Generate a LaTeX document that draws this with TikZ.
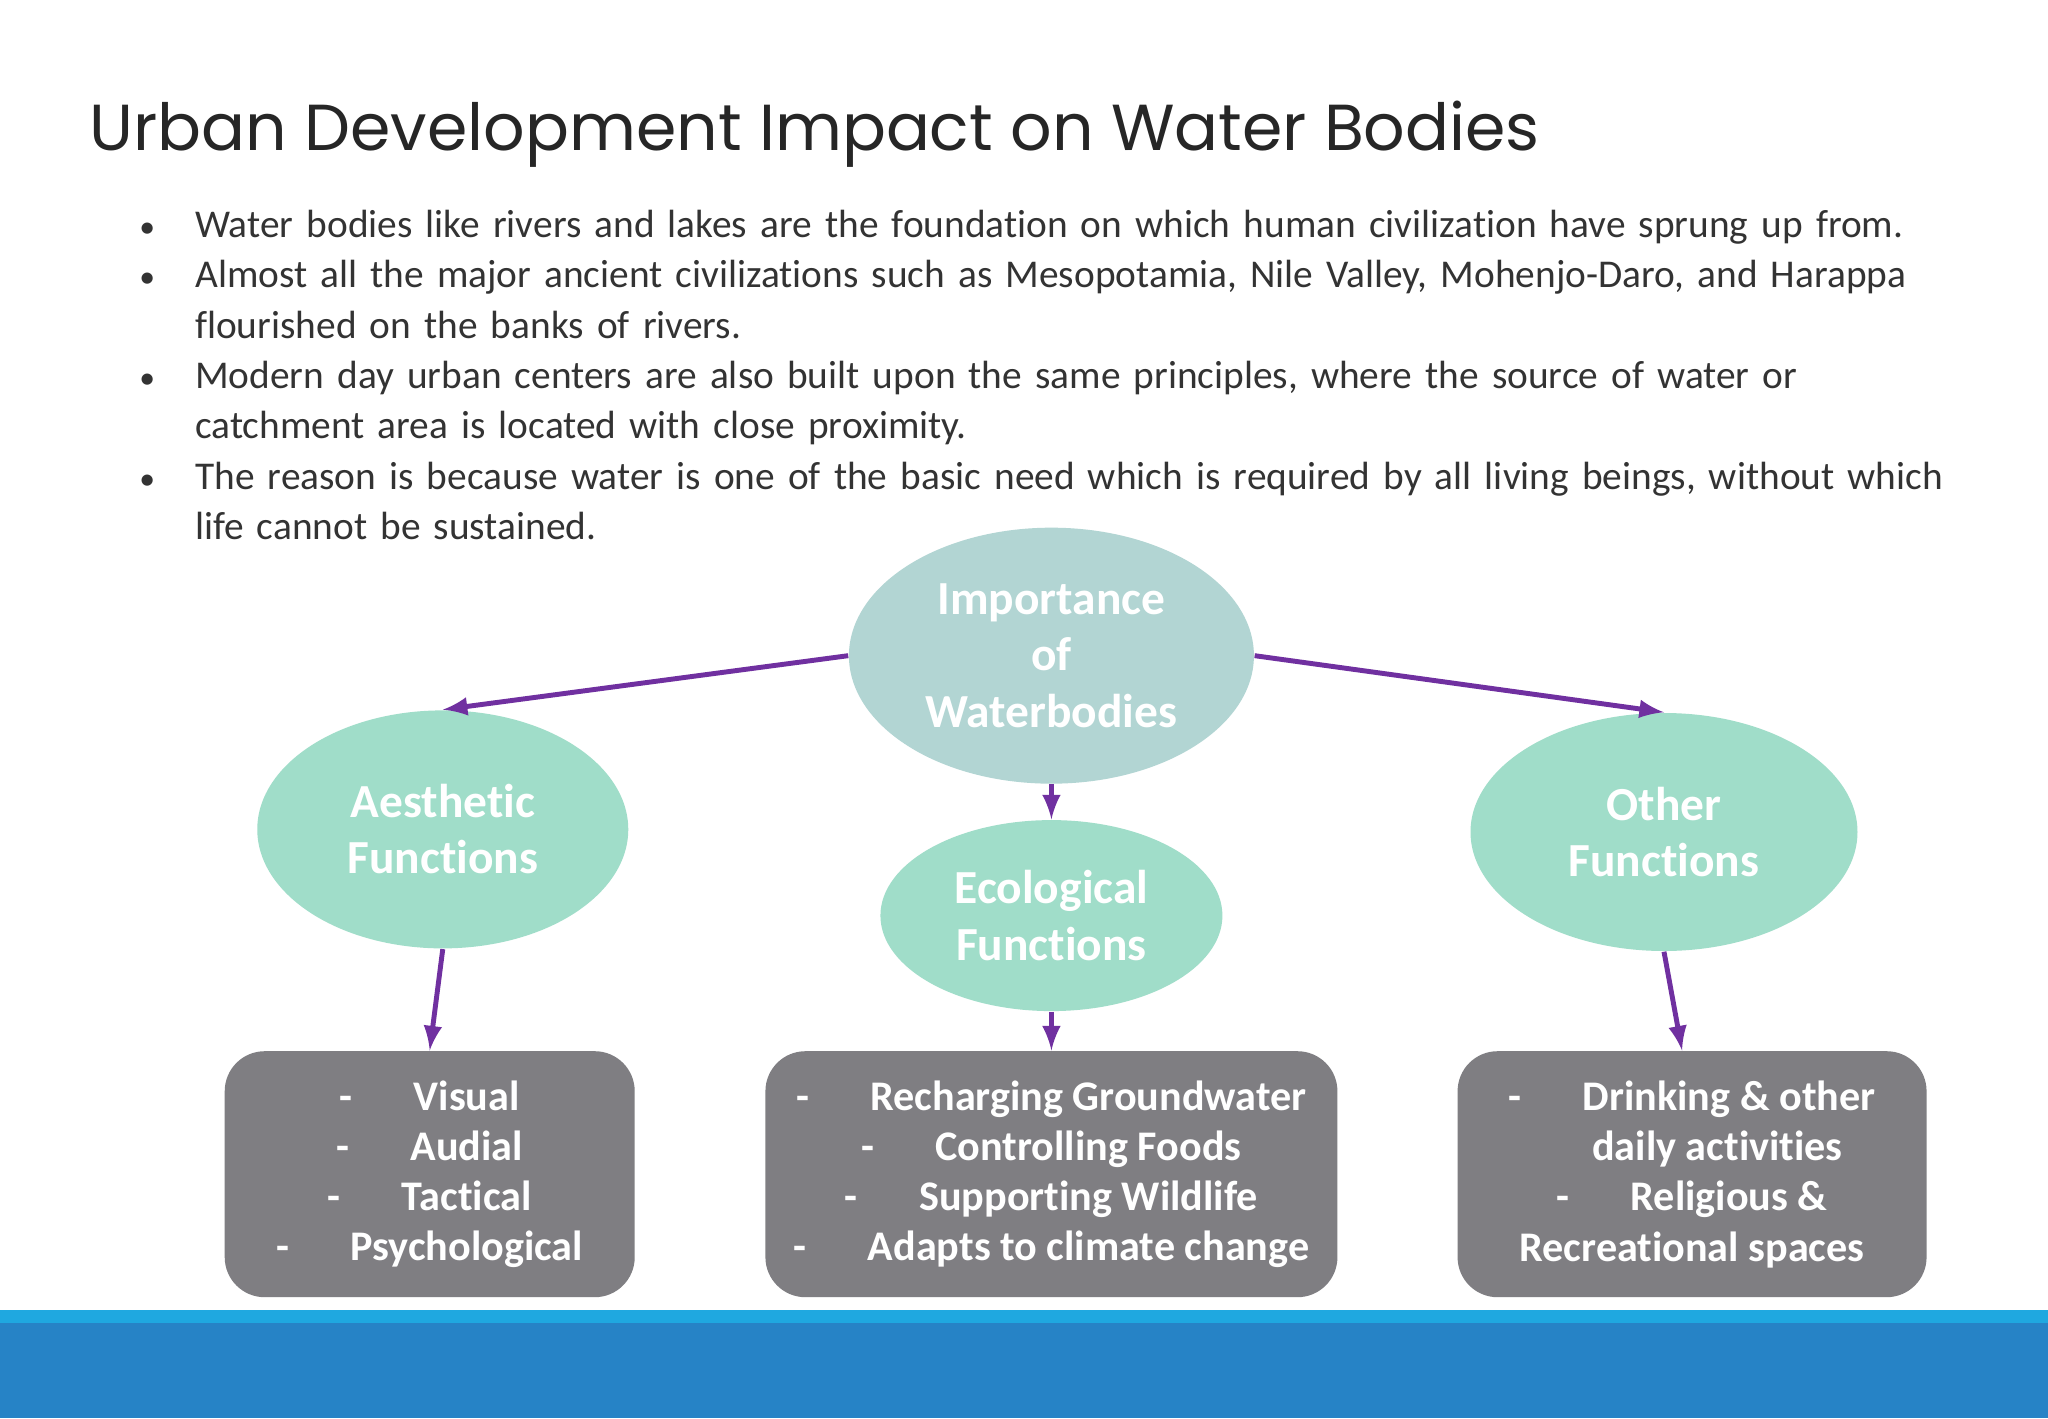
\documentclass[tikz,border=0pt]{standalone}
\usepackage{fontspec}
\setmainfont{Carlito}[Ligatures=NoCommon]
\newfontfamily\titlefont{Poppins}
\usepackage{enumitem}
\usetikzlibrary{shapes.geometric}
\definecolor{topteal}{HTML}{B2D5D3}
\definecolor{mint}{HTML}{A0DDC9}
\definecolor{boxgrey}{HTML}{7F7E82}
\definecolor{arrowpurple}{HTML}{7030A0}
\definecolor{bandlight}{HTML}{1FA8E0}
\definecolor{banddark}{HTML}{2683C6}
\begin{document}
\begin{tikzpicture}[x=0.01306cm,y=-0.01306cm]
  \tikzset{blob/.style={draw=none, ellipse, text=white, align=center,
             font=\fontsize{13.5pt}{16pt}\selectfont\bfseries, inner sep=0pt},
           infobox/.style={fill=boxgrey, rounded corners=0.4cm, text=white, align=center,
             font=\fontsize{12pt}{14.3pt}\selectfont\bfseries, inner sep=0pt},
           link/.style={->, >=latex, draw=arrowpurple, line width=1.4pt}}
  \useasboundingbox (0,0) rectangle (1568,1086);
  \fill[white] (0,0) rectangle (1568,1086);
  % bottom band
  \fill[bandlight] (0,1003) rectangle (1568,1013);
  \fill[banddark] (0,1013) rectangle (1568,1086);
  % title and bullets
  \node[anchor=base west, inner sep=0pt, font=\titlefont\fontsize{18.5pt}{22pt}\selectfont, text=black!85]
    (title) at (68,115) {Urban Development Impact on Water Bodies};
  \node[anchor=north west, inner sep=0pt, text width=18.31cm, text=black!80,
        font=\fontsize{11.2pt}{14.3pt}\selectfont] (text) at (103,143) {%
    \begin{itemize}[leftmargin=0.6cm, labelsep=0.4cm, itemsep=0pt, parsep=0pt, topsep=0pt,
                    label={\small\textbullet}]
      \item Water bodies like rivers and lakes are the foundation on which human civilization have sprung up from.
      \item Almost all the major ancient civilizations such as Mesopotamia, Nile Valley, Mohenjo-Daro, and Harappa flourished on the banks of rivers.
      \item Modern day urban centers are also built upon the same principles, where the source of water or catchment area is located with close proximity.
      \item The reason is because water is one of the basic need which is required by all living beings, without which life cannot be sustained.
    \end{itemize}};
  % ellipses
  \node[blob, fill=topteal, minimum width=4.05cm, minimum height=2.56cm] (imp) at (805,502) {Importance\\of\\Waterbodies};
  \node[blob, fill=mint, minimum width=3.71cm, minimum height=2.38cm] (aes) at (339,635) {Aesthetic\\Functions};
  \node[blob, fill=mint, minimum width=3.42cm, minimum height=1.91cm] (eco) at (805,701) {Ecological\\Functions};
  \node[blob, fill=mint, minimum width=3.87cm, minimum height=2.38cm] (oth) at (1274,637) {Other\\Functions};
  % boxes
  \node[infobox, minimum width=4.10cm, minimum height=2.46cm] (aesbox) at (329,899)
    {-\quad\ \ Visual\\-\quad\ \ Audial\\-\quad\ \ Tactical\\-\quad\ \ Psychological};
  \node[infobox, minimum width=5.72cm, minimum height=2.46cm] (ecobox) at (805,899)
    {-\quad\ \ Recharging Groundwater\\-\quad\ \ Controlling Foods\\-\quad\ \ Supporting Wildlife\\-\quad\ \ Adapts to climate change};
  \node[infobox, minimum width=4.69cm, minimum height=2.46cm] (othbox) at (1295.5,899)
    {-\quad\ \ Drinking \& other\\\hspace{1.2em}daily activities\\-\quad\ \ Religious \&\\Recreational spaces};
  % arrows
  \draw[link] (imp.west) -- (aes.north);
  \draw[link] (imp.east) -- (oth.north);
  \draw[link] (imp.south) -- (eco.north);
  \draw[link] (aes.south) -- (aesbox.north);
  \draw[link] (eco.south) -- (ecobox.north);
  \draw[link] (oth.south) -- ([xshift=-0.1cm]othbox.north);
\end{tikzpicture}
\end{document}
